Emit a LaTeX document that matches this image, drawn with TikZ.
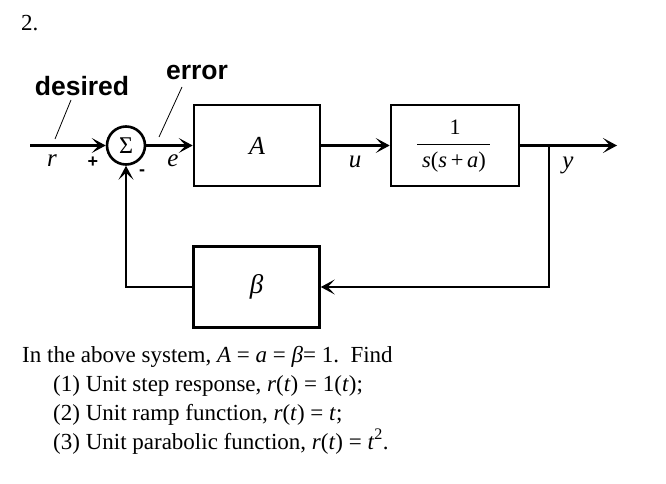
\documentclass[tikz,border=0pt]{standalone}
\usepackage{fontspec}
\setmainfont{Liberation Serif}
\setsansfont{Liberation Sans}
\usetikzlibrary{arrows.meta}
\begin{document}
\begin{tikzpicture}[x=1pt,y=-1pt,
  blk/.style={draw, line width=2.6pt, minimum width=126pt, minimum height=81pt, inner sep=0},
  sig/.style={line width=2.6pt},
  arr/.style={sig, -{Stealth[length=14pt,width=15pt,inset=7pt]}},
  ptr/.style={line width=0.8pt},
  lbl/.style={inner sep=0, font=\fontsize{25}{30}\selectfont\itshape},
  txt/.style={anchor=base west, inner sep=0, font=\fontsize{23}{28}\selectfont},
  tag/.style={inner sep=0, font=\fontsize{26.5}{32}\selectfont\sffamily\bfseries}]
\useasboundingbox (0,0) rectangle (666,484);

\node[anchor=base west, inner sep=0, font=\fontsize{23}{28}\selectfont] (num) at (21,31) {2.};

\node[circle, draw, line width=2.6pt, minimum size=38pt, inner sep=0,
      font=\fontsize{24}{24}\selectfont] (sum) at (126,145.5) {Σ};
\node[blk] (A) at (257,145.5) {\fontsize{26}{30}\selectfont\itshape A};
\node[blk, minimum width=128pt] (G) at (455,145.5) {};
\node[blk] (B) at (256.5,287) {\fontsize{27}{30}\selectfont\itshape β};

\node[inner sep=0, font=\fontsize{22}{26}\selectfont] (num1) at (455,127) {1};
\node[inner sep=0, font=\fontsize{22.5}{26}\selectfont] (den) at (454,162) {\textit{s}(\textit{s}\,+\,\textit{a})};
\draw[line width=1pt] (417,144) -- (490,144);

\coordinate (in) at (30,145.5);
\coordinate (out) at (617,145.5);
\coordinate (br) at (549,145.5);
\coordinate (fb) at (549,287);

\draw[arr] (in) -- (sum.west);
\draw[arr] (sum.east) -- (A.west);
\draw[arr] (A.east) -- (G.west);
\draw[arr] (G.east) -- (out);
\draw[arr] (br) -- (fb) -- (B.east);
\draw[arr] (B.west) -| (sum.south);

\node[lbl] (r) at (52,161) {r};
\node[inner sep=0, font=\fontsize{18}{20}\selectfont\sffamily\bfseries] (plus) at (93,162) {+};
\node[inner sep=0, font=\fontsize{18}{20}\selectfont\sffamily\bfseries] (minus) at (142,173) {-};
\node[lbl] (e) at (173,161) {e};
\node[lbl] (u) at (355,162) {u};
\node[lbl] (y) at (568,165) {y};

\node[tag] (desired) at (82,86) {desired};
\node[tag] (error) at (197,72) {error};
\coordinate (d1) at (71,100);
\coordinate (d2) at (55,139);
\coordinate (e1) at (182,87);
\coordinate (e2) at (159,137);
\draw[ptr] (d1) -- (d2);
\draw[ptr] (e1) -- (e2);

\node[txt] (l1) at (22,362) {In the above system, \textit{A} = \textit{a} = \textit{β}= 1.\ \ Find};
\node[txt] (l2) at (53,391) {(1) Unit step response, \textit{r}(\textit{t}) = 1(\textit{t});};
\node[txt] (l3) at (53,420) {(2) Unit ramp function, \textit{r}(\textit{t}) = \textit{t};};
\node[txt] (l4) at (53,449) {(3) Unit parabolic function, \textit{r}(\textit{t}) = \textit{t}\textsuperscript{2}.};
\end{tikzpicture}
\end{document}
